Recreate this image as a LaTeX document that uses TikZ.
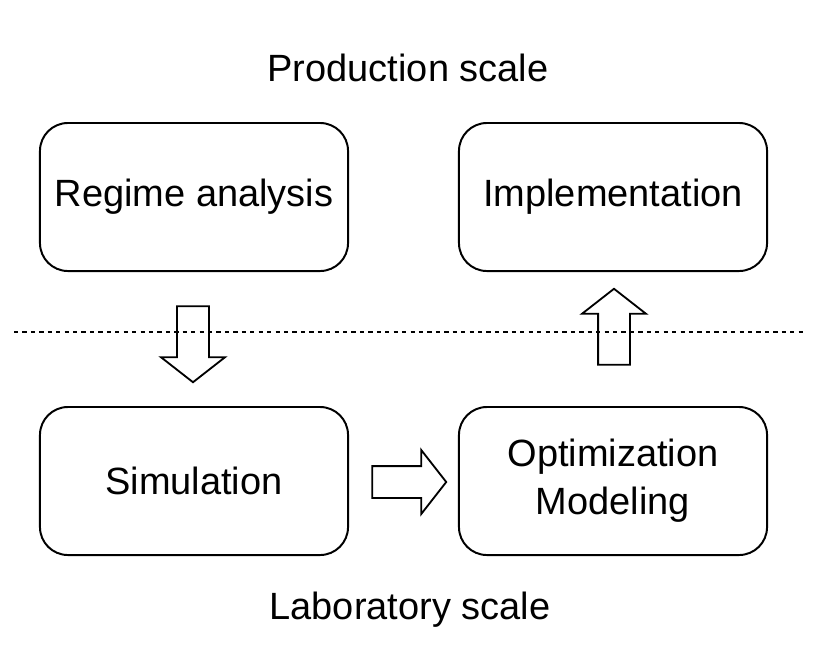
\documentclass[tikz,border=0pt]{standalone}
\usepackage{fontspec}
\setmainfont{Liberation Sans}
\usetikzlibrary{shapes.arrows}

\tikzset{
  stage/.style={draw, rounded corners=0.7cm, line width=1.4pt, minimum width=7.7cm, minimum height=3.7cm, align=center, font=\fontsize{27}{34}\selectfont},
  blockarrow/.style={single arrow, draw, line width=1.3pt, minimum height=1.9cm, minimum width=1.55cm, single arrow head extend=0.4cm, single arrow tip angle=104, inner xsep=0pt, inner ysep=0.375cm},
  scale label/.style={font=\fontsize{27}{33}\selectfont}
}

\begin{document}
\begin{tikzpicture}[x=0.025cm,y=-0.025cm]
  \useasboundingbox (0,0) rectangle (840,654);
  % Boxes
  \node[stage] (regime) at (194,197) {Regime analysis};
  \node[stage] (impl) at (613,197) {Implementation};
  \node[stage] (sim) at (194,481) {Simulation};
  \node[stage] (opt) at (613,481) {Optimization\\Modeling};

  % Scale labels
  \node[scale label] (prod) at (408,68) {Production scale};
  \node[scale label] (lab) at (410,610) {Laboratory scale};

  % Dashed divider
  \coordinate (dl) at (14,332);
  \coordinate (dr) at (806,332);
  \draw[dashed, line width=0.8pt] (dl) -- (dr);

  % Block arrows
  \node[blockarrow, rotate=-90] (down) at (193,338) {};
  \node[blockarrow, rotate=90] (up) at (614,333) {};
  \node[blockarrow, minimum height=1.85cm] (right) at (403,482) {};
\end{tikzpicture}
\end{document}
